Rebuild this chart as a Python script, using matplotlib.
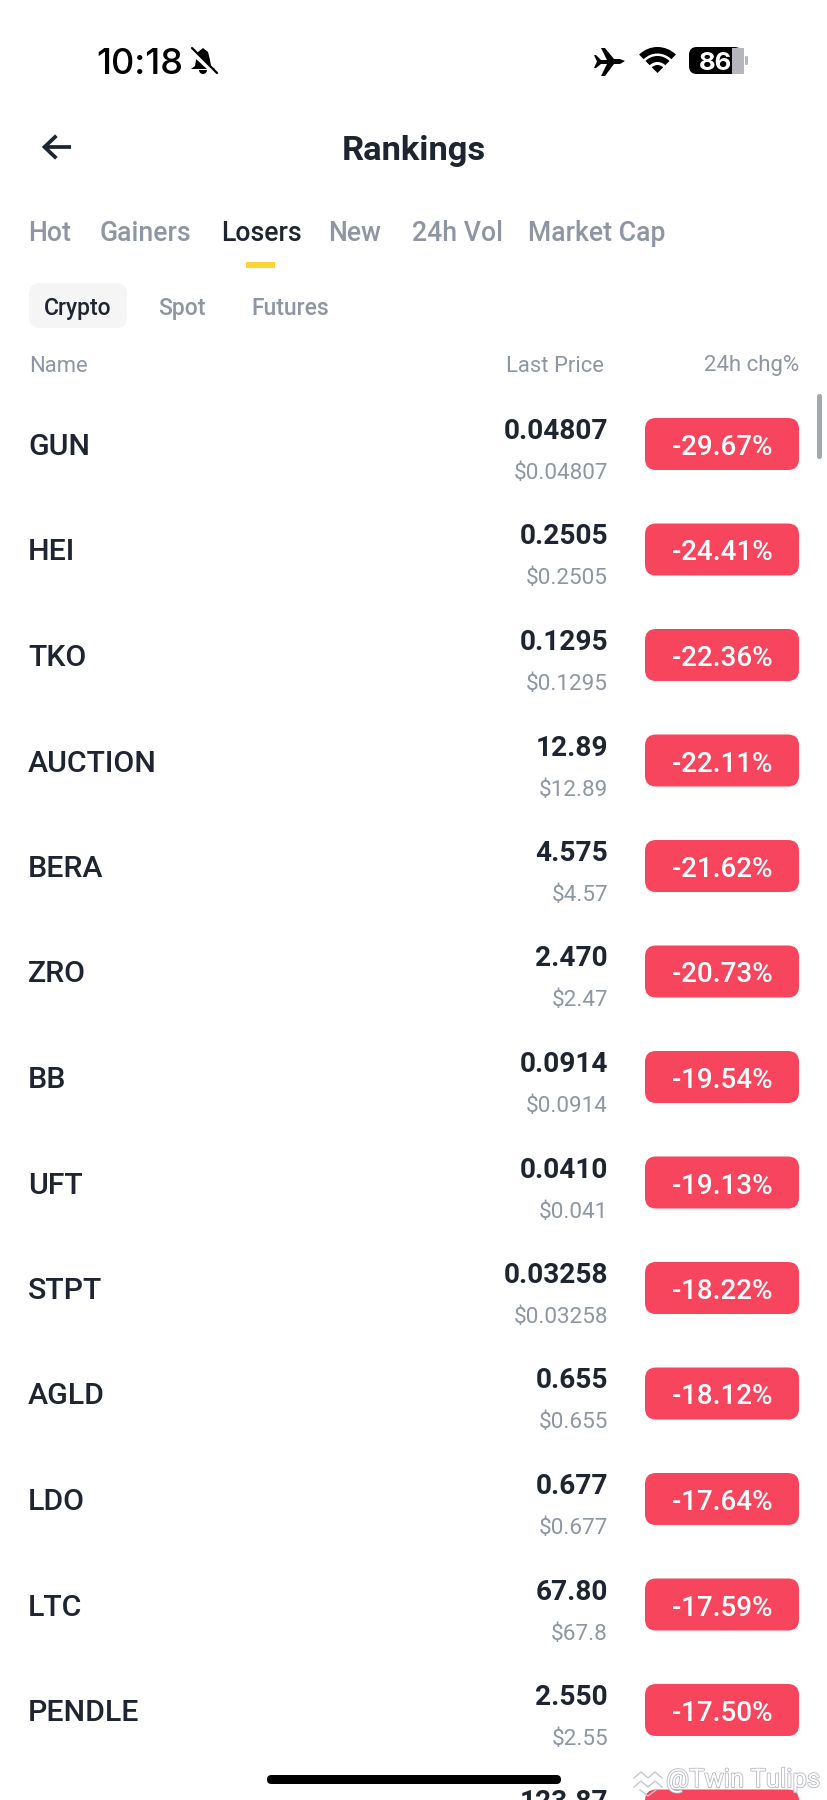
"""Rankings / Losers list, drawn on a pixel-sized axes."""
import matplotlib
matplotlib.use("Agg")
import matplotlib.pyplot as plt
import matplotlib.patheffects as pe
from matplotlib.patches import FancyBboxPatch, Polygon, Wedge

names = ["GUN", "HEI", "TKO", "AUCTION", "BERA", "ZRO", "BB", "UFT", "STPT", "AGLD", "LDO", "LTC", "PENDLE", ""]
prices = ["0.04807", "0.2505", "0.1295", "12.89", "4.575", "2.470", "0.0914", "0.0410", "0.03258",
          "0.655", "0.677", "67.80", "2.550", "123.87"]
usd = ["$0.04807", "$0.2505", "$0.1295", "$12.89", "$4.57", "$2.47", "$0.0914", "$0.041", "$0.03258",
       "$0.655", "$0.677", "$67.8", "$2.55", ""]
changes = ["-29.67%", "-24.41%", "-22.36%", "-22.11%", "-21.62%", "-20.73%", "-19.54%", "-19.13%", "-18.22%",
           "-18.12%", "-17.64%", "-17.59%", "-17.50%", ""]
tabs = ["Hot", "Gainers", "Losers", "New", "24h Vol", "Market Cap"]
tab_x = [28, 100, 221, 328, 412, 528]
sub_tabs = ["Crypto", "Spot", "Futures"]
sub_x = [44, 158, 251]

DARK = "#1E2530"
GRAY = "#8E96A3"
RED = "#F8455E"
ROW = 105.5

plt.rcParams["font.family"] = ["Roboto", "DejaVu Sans"]

fig = plt.figure(figsize=(8.28, 18), dpi=100)
ax = fig.add_axes([0, 0, 1, 1])
ax.set_xlim(0, 828)
ax.set_ylim(1800, 0)
ax.axis("off")


def label(x, y, s, size, color=DARK, ha="left", weight="normal", **kw):
    return ax.text(x, y, s, fontsize=size, color=color, ha=ha, va="baseline", weight=weight, **kw)


def pill(x0, y0, x1, y1, r, color, z=2):
    ax.add_patch(FancyBboxPatch((x0 + r, y0 + r), x1 - x0 - 2 * r, y1 - y0 - 2 * r,
                                boxstyle=f"round,pad={r},rounding_size={r}",
                                fc=color, ec="none", zorder=z))


# status bar
label(96, 74, "10:18", 26, color="black", weight="medium", family=["Inter", "DejaVu Sans"])
ax.add_patch(Polygon([(203, 48), (208, 52), (210, 60), (211, 66), (215, 69), (191, 69), (195, 66),
                      (196, 60), (198, 52)], fc="black", ec="none"))
ax.add_patch(Wedge((203, 70), 4, 0, 180, fc="black", ec="none"))
ax.plot([190, 216], [50, 74], color="white", lw=3.6, solid_capstyle="butt")
ax.plot([192, 217], [48, 73], color="black", lw=1.6, solid_capstyle="round")

ax.add_patch(Polygon([(594, 55), (596, 55), (601, 60), (607, 60), (601, 48), (605, 48), (614, 59), (620, 59),
                      (625, 61), (620, 64), (614, 64), (605, 76), (601, 76), (607, 64), (601, 64),
                      (596, 68), (594, 68), (597, 61.5)], fc="black", ec="none"))
ax.add_patch(Wedge((657.5, 73), 26, 225, 315, width=6.5, fc="black", ec="none"))
ax.add_patch(Wedge((657.5, 73), 17, 225, 315, width=6, fc="black", ec="none"))
ax.add_patch(Wedge((657.5, 73), 8, 225, 315, fc="black", ec="none"))

pill(689, 47, 744, 74, 8, "#B4B6BB")
pill(689, 47, 742, 74, 8, "black", z=2.1)
ax.fill_between([732, 744], 47.5, 73.5, color="#B4B6BB", zorder=2.2, lw=0)
pill(745, 56, 748, 65, 1.4, "#B4B6BB")
label(716, 70, "86", 18.5, color="white", ha="center", weight="bold", zorder=3,
      family=["Inter", "DejaVu Sans"])

# header
ax.plot([71, 45], [147, 147], color=DARK, lw=2.7, solid_capstyle="butt")
ax.plot([55, 44.5, 55], [137, 147, 157], color=DARK, lw=2.7, solid_joinstyle="miter")
label(414, 160, "Rankings", 24.8, ha="center", weight="bold")

for name, x in zip(tabs, tab_x):
    label(x, 241, name, 19.2, color=DARK if name == "Losers" else GRAY, weight="medium")
ax.fill_between([246, 275], 262, 268, color="#FCD535", lw=0)

pill(29, 283, 127, 328, 11, "#F5F5F5")
for name, x in zip(sub_tabs, sub_x):
    label(x, 315, name, 16.5, color=DARK if name == "Crypto" else GRAY, weight="medium")

label(29, 371.5, "Name", 15.8, color=GRAY)
label(604, 371.5, "Last Price", 15.8, color=GRAY, ha="right")
label(799, 371.5, "24h chg%", 16, color=GRAY, ha="right")

# scrollbar
pill(817, 394, 822, 459, 2.4, "#A3A7AE")

# rows
for i, (name, price, dollar, chg) in enumerate(zip(names, prices, usd, changes)):
    off = i * ROW
    label(28, 455 + off, name, 21.8, weight="medium")
    label(608, 439 + off, price, 20.2, ha="right", weight=600)
    label(608, 479 + off, dollar, 16.2, color=GRAY, ha="right")
    pill(645, 418 + off, 799, 470 + off, 11, RED)
    label(722, 455 + off, chg, 20, color="white", ha="center", weight="medium", zorder=3)

# home indicator and watermark
pill(267, 1775, 561, 1784, 4.5, "black", z=5)
label(666, 1787, "@Twin Tulips", 18.5, color="white", zorder=6,
      path_effects=[pe.withStroke(linewidth=1.2, foreground="#B5B8BE")])
for dy in (0, 9):
    ax.plot([634, 641, 648, 655, 662], [1778 + dy, 1772 + dy, 1778 + dy, 1772 + dy, 1778 + dy],
            color="#C4C7CC", lw=1, zorder=6)
ax.plot([640, 648, 656], [1790, 1796, 1790], color="#C4C7CC", lw=1, zorder=6)

fig.savefig("out.png", dpi=100)
